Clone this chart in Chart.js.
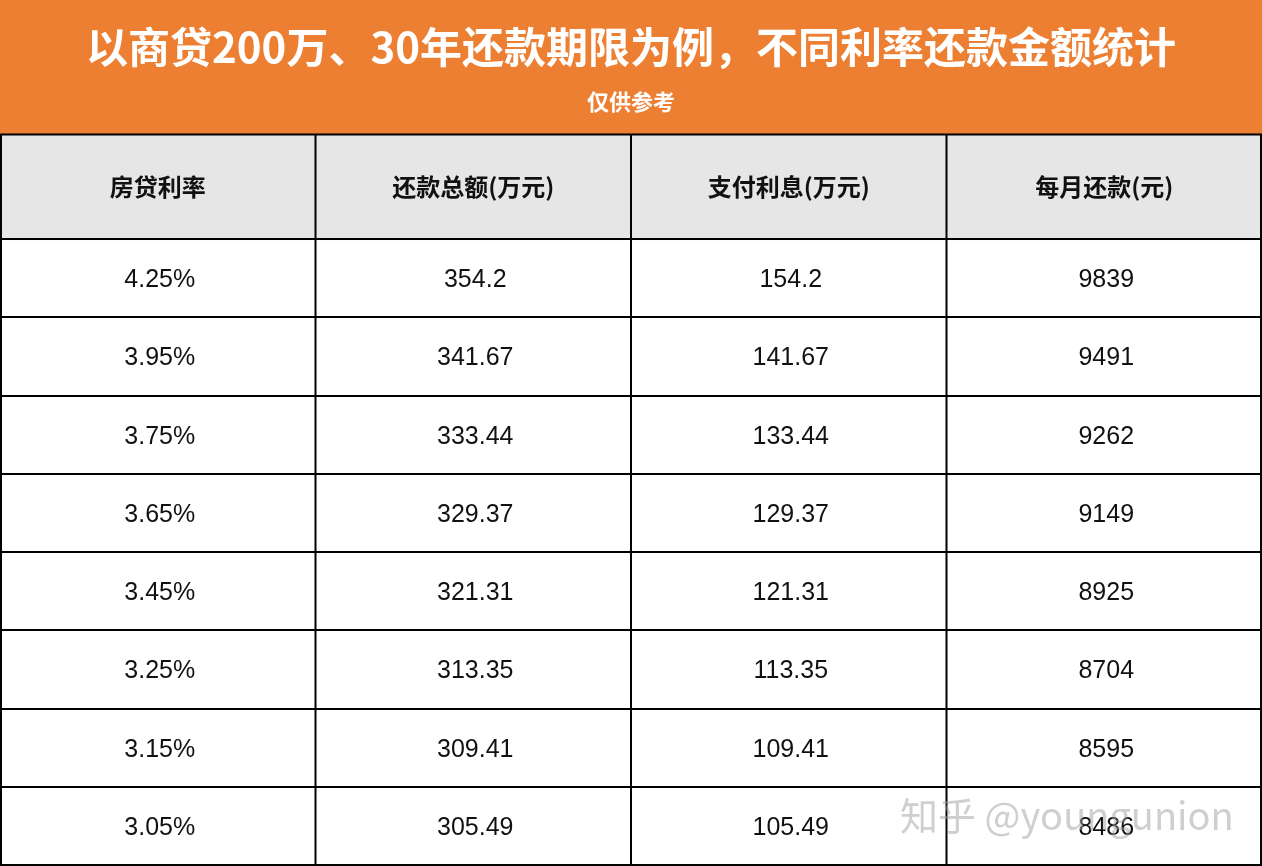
<!DOCTYPE html>
<html><head><meta charset="utf-8">
<script src="https://cdn.jsdelivr.net/npm/chart.js@4.4.1/dist/chart.umd.min.js"></script>
<style>html,body{margin:0;padding:0;background:#fff}#w{width:1262px;height:866px}</style>
</head><body><div id="w"><canvas id="c"></canvas></div>
<script>
const title = "以商贷200万、30年还款期限为例，不同利率还款金额统计";
const subtitle = "仅供参考";
const headers = ["房贷利率", "还款总额(万元)", "支付利息(万元)", "每月还款(元)"];
const rates = ["4.25%", "3.95%", "3.75%", "3.65%", "3.45%", "3.25%", "3.15%", "3.05%"];
const totals = ["354.2", "341.67", "333.44", "329.37", "321.31", "313.35", "309.41", "305.49"];
const interest = ["154.2", "141.67", "133.44", "129.37", "121.31", "113.35", "109.41", "105.49"];
const monthly = ["9839", "9491", "9262", "9149", "8925", "8704", "8595", "8486"];
const columns = [rates, totals, interest, monthly];

const TITLE_H = 1.72, HEAD_H = 1.35;
const F = '"Noto Sans CJK SC", "Liberation Sans", sans-serif';

const tablePlugin = {
  id: 'table',
  afterDraw(chart) {
    const ctx = chart.ctx, xs = chart.scales.x, ys = chart.scales.y;
    const X = v => xs.getPixelForValue(v), Y = v => ys.getPixelForValue(v);
    const top0 = 0, top1 = TITLE_H, top2 = TITLE_H + HEAD_H, end = top2 + rates.length;
    ctx.save();
    ctx.fillStyle = '#ed7f33';
    ctx.fillRect(X(0), Y(top0), X(4) - X(0), Y(top1) - Y(top0));
    ctx.fillStyle = '#fff'; ctx.textAlign = 'center'; ctx.textBaseline = 'middle';
    ctx.font = 'bold 42px ' + F;
    ctx.fillText(title, X(2), Y(0.6));
    ctx.font = 'bold 22px ' + F;
    ctx.fillText(subtitle, X(2), Y(1.3));
    ctx.fillStyle = '#e6e6e6';
    ctx.fillRect(X(0), Y(top1), X(4) - X(0), Y(top2) - Y(top1));
    ctx.fillStyle = '#111'; ctx.font = 'bold 24px ' + F;
    headers.forEach((h, i) => ctx.fillText(h, X(i + 0.5), Y(top1 + HEAD_H / 2)));
    ctx.font = '25px "Liberation Sans", Arial, sans-serif'; ctx.fillStyle = '#111';
    columns.forEach((col, i) => col.forEach((v, r) => ctx.fillText(v, X(i + 0.5) + 2, Y(top2 + r + 0.5) + 1)));
    ctx.strokeStyle = '#000'; ctx.lineWidth = 2;
    ctx.beginPath();
    for (let r = 0; r <= rates.length; r++) { const y = Math.round(Y(top2 + r)) - 1; ctx.moveTo(X(0), y); ctx.lineTo(X(4), y); }
    ctx.moveTo(X(0), Y(top1)); ctx.lineTo(X(4), Y(top1));
    for (let i = 0; i <= 4; i++) { const x = Math.min(Math.max(X(i), 1), X(4) - 1); ctx.moveTo(x, Y(top1)); ctx.lineTo(x, Y(end)); }
    ctx.stroke();
    ctx.fillStyle = 'rgba(160,160,160,0.5)'; ctx.font = '38px ' + F; ctx.textAlign = 'left';
    ctx.fillText('知乎 @youngunion', 900, Y(top2 + 7.35));
    ctx.restore();
  }
};

new Chart(document.getElementById('c'), {
  type: 'scatter',
  data: { datasets: [{ data: [], pointRadius: 0 }] },
  options: {
    responsive: true, maintainAspectRatio: false, animation: false,
    layout: { padding: 0 },
    plugins: { legend: { display: false }, tooltip: { enabled: false } },
    scales: {
      x: { type: 'linear', min: 0, max: 4, display: false },
      y: { type: 'linear', min: 0, max: TITLE_H + HEAD_H + rates.length, reverse: true, display: false }
    }
  },
  plugins: [tablePlugin]
});
</script></body></html>
